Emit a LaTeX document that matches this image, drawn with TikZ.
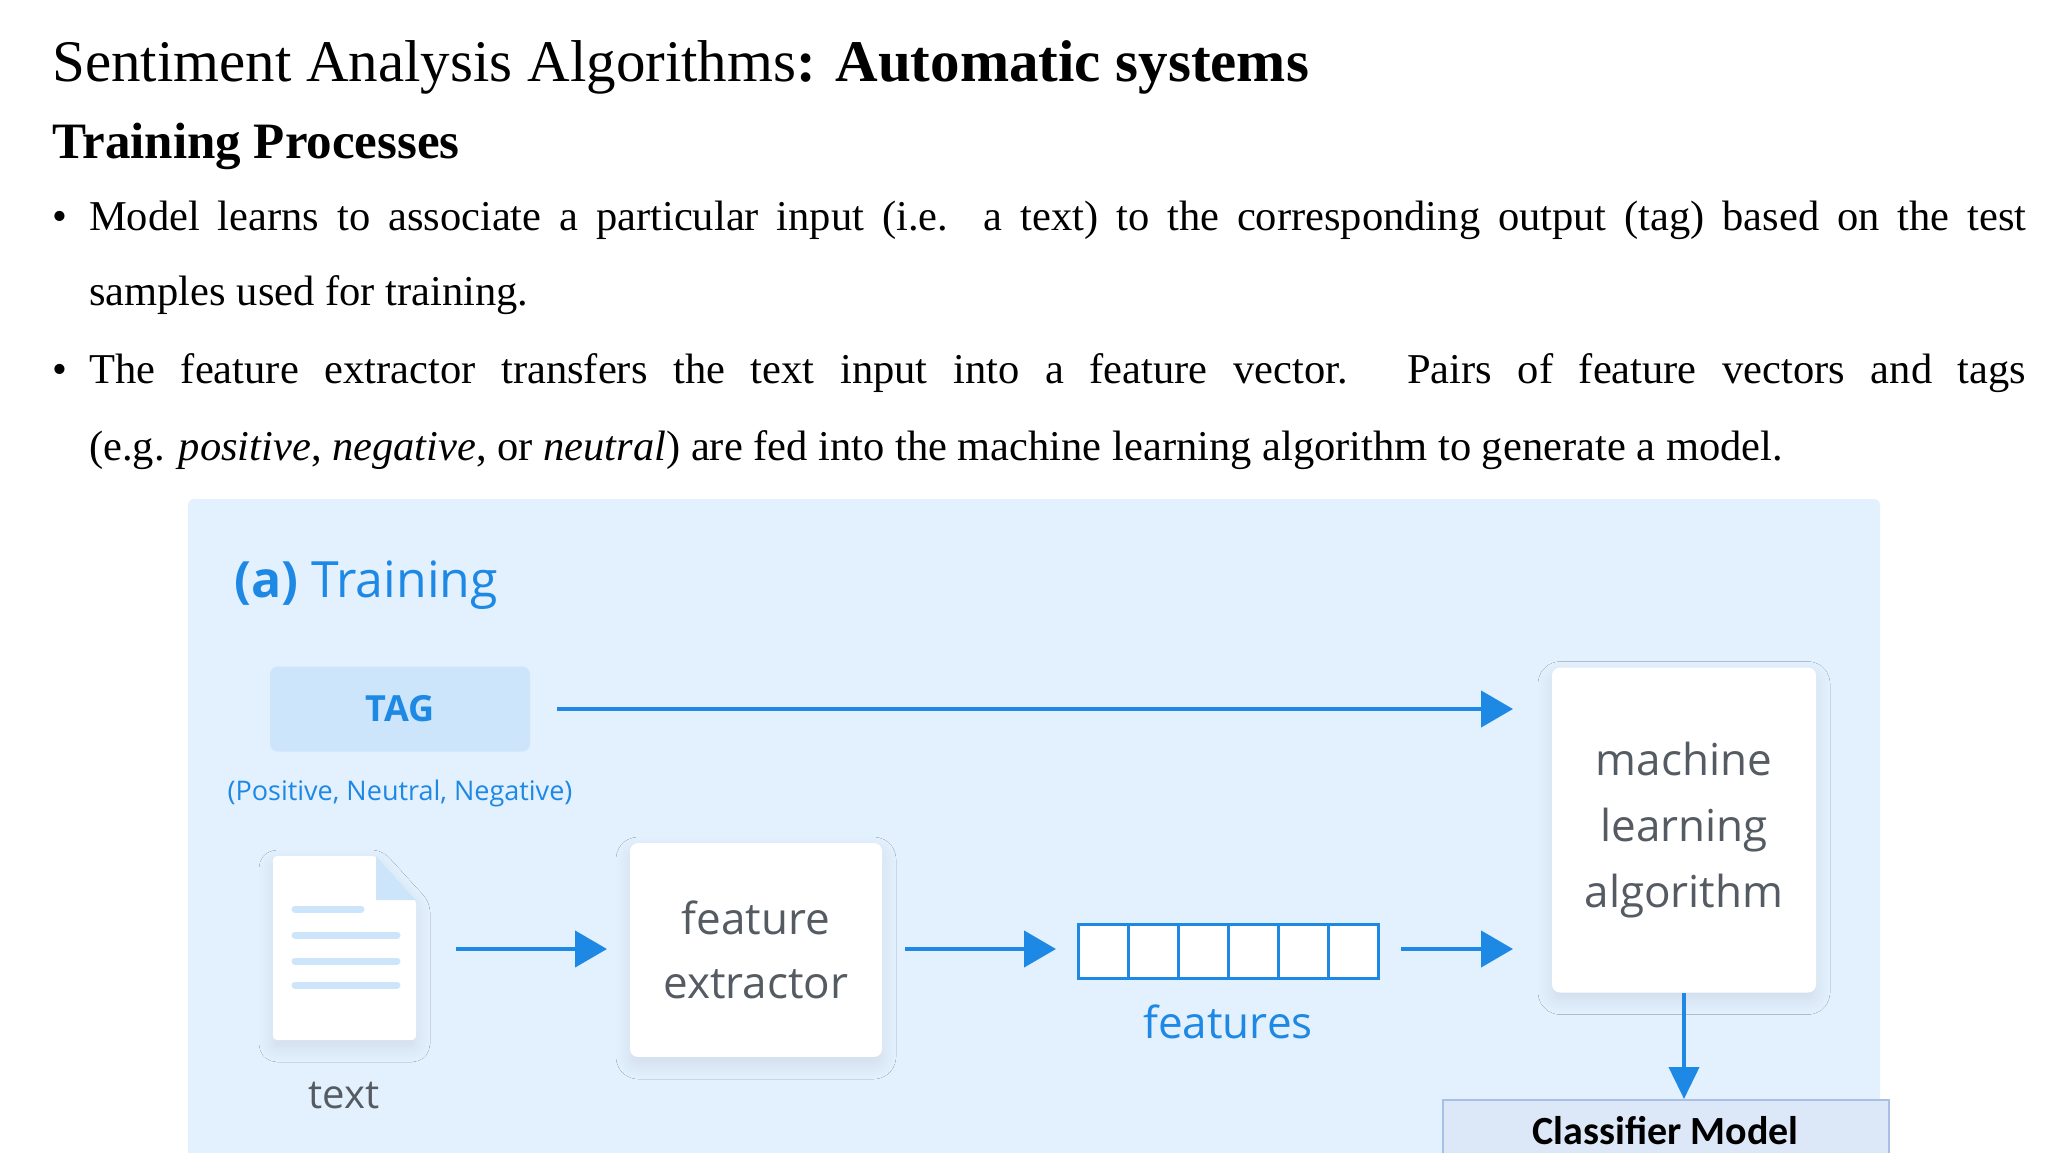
\documentclass[tikz,border=0pt]{standalone}
\usepackage{fontspec}
\setmainfont{Liberation Serif}
\newfontfamily\dia{Open Sans}
\newfontfamily\calfont{Carlito}
\usetikzlibrary{arrows.meta,shadows.blur}
\definecolor{pblue}{HTML}{1E88E5}
\definecolor{panel}{HTML}{E3F0FD}
\definecolor{tagfill}{HTML}{CCE5FA}
\definecolor{gtext}{HTML}{555B63}
\definecolor{clsfill}{HTML}{DCE8F7}
\definecolor{clsdraw}{HTML}{AABFE6}
\tikzset{
  conn/.style={draw=pblue,line width=4.5pt,-{Triangle[length=32pt,width=36pt]}},
  wbox/.style={fill=white,rounded corners=8pt,blur shadow={shadow blur steps=10,shadow xshift=0pt,shadow yshift=-8pt,shadow opacity=8,shadow blur radius=14pt}},
  body/.style={anchor=base west,inner sep=0pt,font=\fontsize{42.5}{50}\selectfont},
}
\begin{document}
\begin{tikzpicture}[x=1pt,y=-1pt]
\useasboundingbox (0,0) rectangle (2048,1152);
% header text
\node[anchor=base west,inner sep=0pt,font=\fontsize{59}{66}\selectfont] (title) at (52,81) {Sentiment Analysis Algorithms\textbf{: Automatic systems}};
\node[anchor=base west,inner sep=0pt,font=\fontsize{51}{56}\selectfont\bfseries] (sub) at (52,158) {Training Processes};
\node[body] (b1) at (52,230) {\textbullet};
\node[body] (l1) at (89,230) {\makebox[1937pt][s]{Model learns to associate a particular input (i.e. a text) to the corresponding output (tag) based on the test}};
\node[body] (l1b) at (89,305) {samples used for training.};
\node[body] (b2) at (52,383) {\textbullet};
\node[body] (l2) at (89,383) {\makebox[1937pt][s]{The feature extractor transfers the text input into a feature vector. Pairs of feature vectors and tags}};
\node[body] (l2b) at (89,460) {(e.g. \textit{positive}, \textit{negative}, or \textit{neutral}) are fed into the machine learning algorithm to generate a model.};
% panel
\fill[panel,rounded corners=6pt] (188,499) rectangle (1880,1170);
\node[anchor=base west,inner sep=0pt,text=pblue,font=\dia\fontsize{50}{56}\selectfont] (ttl) at (234,597) {\textbf{(a)} Training};
% TAG
\node[fill=tagfill,rounded corners=8pt,minimum width=260pt,minimum height=85pt,text=pblue,font=\dia\bfseries\fontsize{36}{40}\selectfont] (tag) at (400,709) {TAG};
\node[text=pblue,font=\dia\fontsize{27}{30}\selectfont,inner sep=0pt] (tagl) at (400,793) {(Positive, Neutral, Negative)};
% document
\fill[white,blur shadow={shadow blur steps=10,shadow xshift=0pt,shadow yshift=-8pt,shadow opacity=8,shadow blur radius=14pt},rounded corners=4pt] (273,856) -- (376,856) -- (416,900) -- (416,1040) -- (273,1040) -- cycle;
\fill[tagfill] (376,856) -- (416,900) -- (376,900) -- cycle;
\node[minimum width=143pt,minimum height=184pt,inner sep=0pt] (doc) at (344.5,948) {};
\foreach \yy/\xe in {909/361,935/397,961/397,985/397}
  \draw[tagfill,line width=7pt,line cap=round] (295,\yy) -- (\xe,\yy);
\node[text=gtext,font=\dia\fontsize{40}{44}\selectfont] (txt) at (344,1095) {text};
% feature extractor
\node[wbox,minimum width=252pt,minimum height=214pt,text=gtext,align=center,font=\dia\fontsize{44}{64}\selectfont] (fe) at (756,950) {feature\\extractor};
% features vector
\foreach \i in {0,...,5}
  \draw[pblue,line width=3pt,fill=white] (1078+\i*50,924) rectangle (1128+\i*50,978);
\node[minimum width=300pt,minimum height=54pt,inner sep=0pt] (feat) at (1228,951) {};
\node[text=pblue,font=\dia\fontsize{44}{48}\selectfont] (featl) at (1228,1022) {features};
% ML box
\node[wbox,minimum width=264pt,minimum height=325pt,text=gtext,align=center,font=\dia\fontsize{44}{66}\selectfont] (ml) at (1684,830) {machine\\learning\\algorithm};
% classifier
\node[fill=clsfill,draw=clsdraw,line width=1.5pt,minimum width=446pt,minimum height=62pt,font=\calfont\bfseries\fontsize{40}{44}\selectfont,anchor=north west] (cls) at (1442,1099) {Classifier Model};
% connectors
\coordinate (tagend) at (1513,709);
\draw[conn] (557,709) -- (tagend);
\draw[conn] (456,949) -- (607,949);
\draw[conn] (905,949) -- (1056,949);
\draw[conn] (1401,949) -- (1513,949);
\draw[pblue,line width=4pt,-{Triangle[length=32pt,width=30pt]}] (ml.south) -- (cls.north -| ml.south);
\end{tikzpicture}
\end{document}
